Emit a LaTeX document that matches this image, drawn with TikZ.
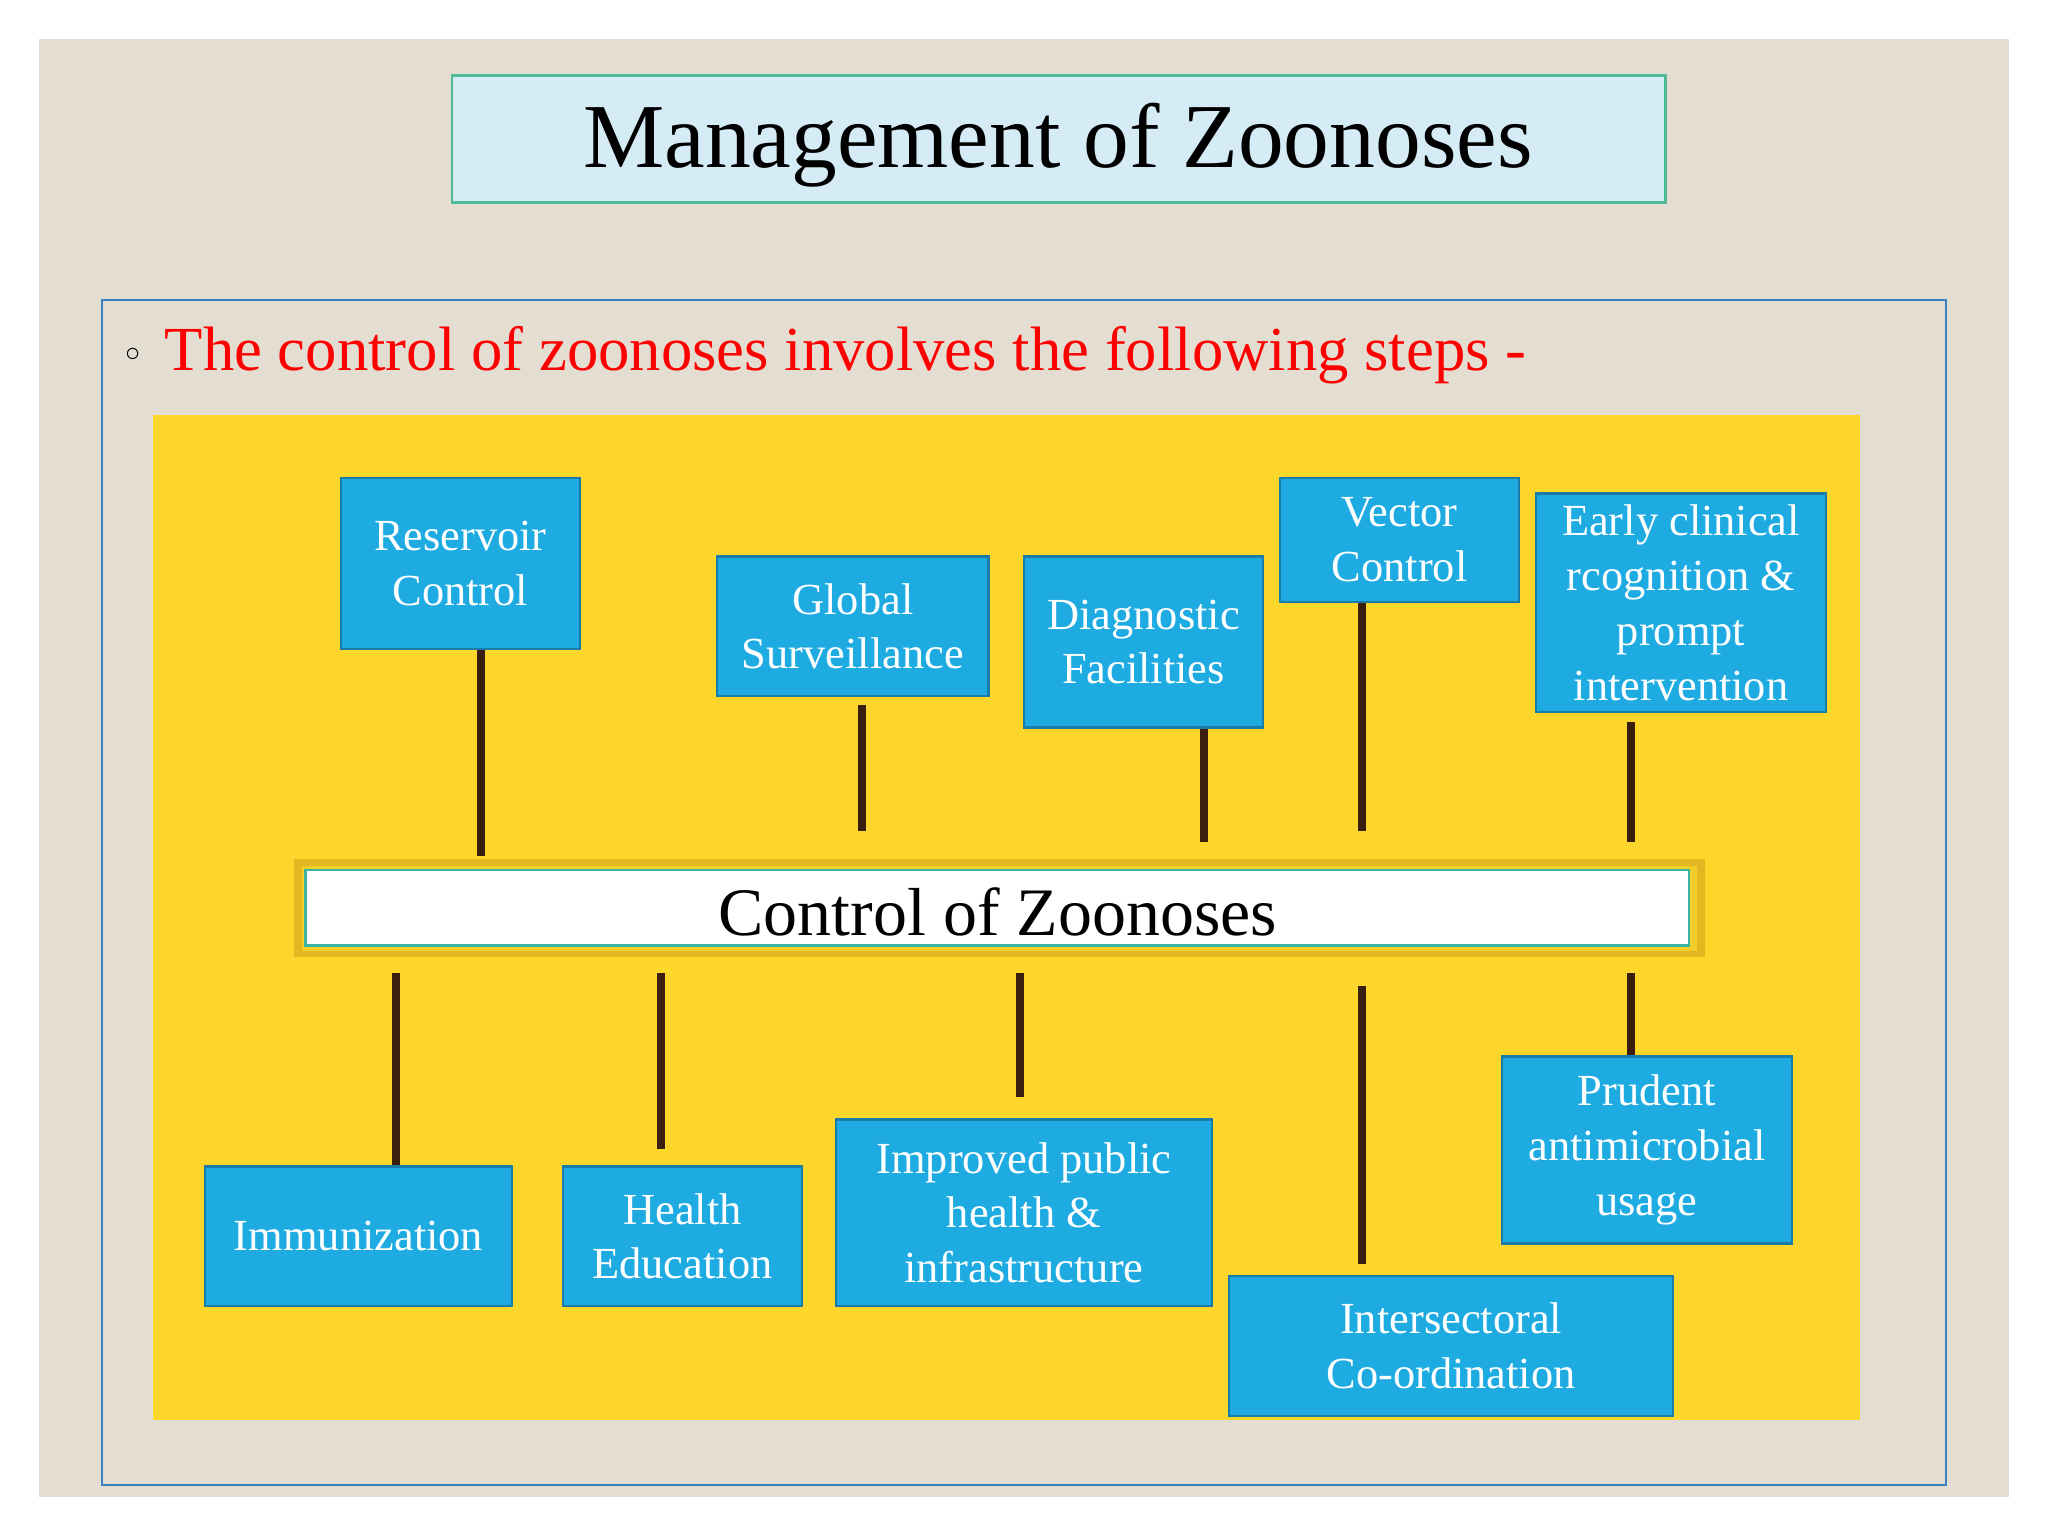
\documentclass[tikz,border=0pt]{standalone}
\usepackage{fontspec}
\setmainfont{Liberation Serif}
\newfontfamily\symfont{DejaVu Sans}
\definecolor{beige}{HTML}{E4DED2}
\definecolor{slideyellow}{HTML}{FDD62C}
\definecolor{ochre}{HTML}{E3B722}
\definecolor{boxblue}{HTML}{1EABE2}
\definecolor{boxedge}{HTML}{1B7BA8}
\definecolor{titlefill}{HTML}{D5ECF7}
\definecolor{titleedge}{HTML}{4DBB98}
\definecolor{frameblue}{HTML}{3B7FC0}
\definecolor{linebrown}{HTML}{3A1E0E}
\definecolor{tealedge}{HTML}{3CB5A0}
\tikzset{
  bluebox/.style={draw=boxedge, line width=2pt, fill=boxblue, text=white,
    align=center, inner sep=0pt, font=\fontsize{34}{42}\selectfont},
  conn/.style={draw=linebrown, line width=6pt},
}
\begin{document}
\begin{tikzpicture}[x=1pt, y=-1pt]
\useasboundingbox (0,0) rectangle (1568,1176);
\fill[white] (0,0) rectangle (1568,1176);
\fill[beige] (30,30) rectangle (1538,1146);
% title
\node[draw=titleedge, line width=2pt, fill=titlefill, minimum width=929pt, minimum height=97pt, inner sep=0pt] (titlebox) at (810.5,106.5) {};
\node[anchor=base, font=\fontsize{70}{80}\selectfont, inner sep=0pt] (title) at (810,128) {Management of Zoonoses};
% content frame
\draw[frameblue, line width=1.5pt] (78,230) rectangle (1490,1137);
\node[anchor=base west, inner sep=0pt, font=\symfont\fontsize{30}{36}\selectfont] (bullet) at (93,282) {◦};
\node[anchor=base west, inner sep=0pt, text=red, font=\fontsize{48}{56}\selectfont] (lead) at (126,284) {The control of zoonoses involves the following steps -};
% yellow panel
\fill[slideyellow] (117,318) rectangle (1424,1087);
\fill[ochre] (225,658) rectangle (1305,733);
\fill[slideyellow!70!ochre] (231,663) rectangle (1299,728);
\node[draw=tealedge, line width=2pt, fill=white, minimum width=1059pt, minimum height=58pt, inner sep=0pt] (center) at (763.5,695) {};
\node[anchor=base, inner sep=0pt, font=\fontsize{52}{60}\selectfont] (centertext) at (764,716) {Control of Zoonoses};
% top boxes
\node[bluebox, minimum width=183pt, minimum height=131pt] (res) at (352.5,431.5) {Reservoir\\Control};
\node[bluebox, minimum width=208pt, minimum height=107pt] (glob) at (653,479.5) {Global\\Surveillance};
\node[bluebox, minimum width=183pt, minimum height=131pt] (diag) at (875.5,491.5) {Diagnostic\\Facilities};
\node[bluebox, minimum width=183pt, minimum height=95pt] (vec) at (1071.5,413.5) {Vector\\Control};
\node[bluebox, minimum width=222pt, minimum height=167pt] (early) at (1287,461.5) {Early clinical\\rcognition \&\\prompt\\intervention};
% bottom boxes
\node[bluebox, minimum width=235pt, minimum height=107pt] (imm) at (274.5,946.5) {Immunization};
\node[bluebox, minimum width=183pt, minimum height=107pt] (health) at (522.5,946.5) {Health\\Education};
\node[bluebox, minimum width=288pt, minimum height=143pt] (impr) at (784,928.5) {Improved public\\health \&\\infrastructure};
\node[bluebox, minimum width=340pt, minimum height=107pt] (inter) at (1111,1030.5) {Intersectoral\\Co-ordination};
\node[bluebox, minimum width=222pt, minimum height=143pt] (prud) at (1261,880.5) {Prudent\\antimicrobial\\usage};
% connector end points
\coordinate (tA) at (368,655);
\coordinate (tB1) at (660,540);
\coordinate (tB2) at (660,636);
\coordinate (tC) at (922,645);
\coordinate (tD) at (1043,636);
\coordinate (tE1) at (1249,553);
\coordinate (tE2) at (1249,645);
\coordinate (bA) at (303,745);
\coordinate (bB1) at (506,745);
\coordinate (bB2) at (506,880);
\coordinate (bC1) at (781,745);
\coordinate (bC2) at (781,840);
\coordinate (bD1) at (1043,755);
\coordinate (bD2) at (1043,968);
\coordinate (bE) at (1249,745);
% connectors
\draw[conn] (res.south -| tA) -- (tA);
\draw[conn] (tB1) -- (tB2);
\draw[conn] (diag.south -| tC) -- (tC);
\draw[conn] (vec.south -| tD) -- (tD);
\draw[conn] (tE1) -- (tE2);
\draw[conn] (bA) -- (bA |- imm.north);
\draw[conn] (bB1) -- (bB2);
\draw[conn] (bC1) -- (bC2);
\draw[conn] (bD1) -- (bD2);
\draw[conn] (bE) -- (bE |- prud.north);
\end{tikzpicture}
\end{document}
